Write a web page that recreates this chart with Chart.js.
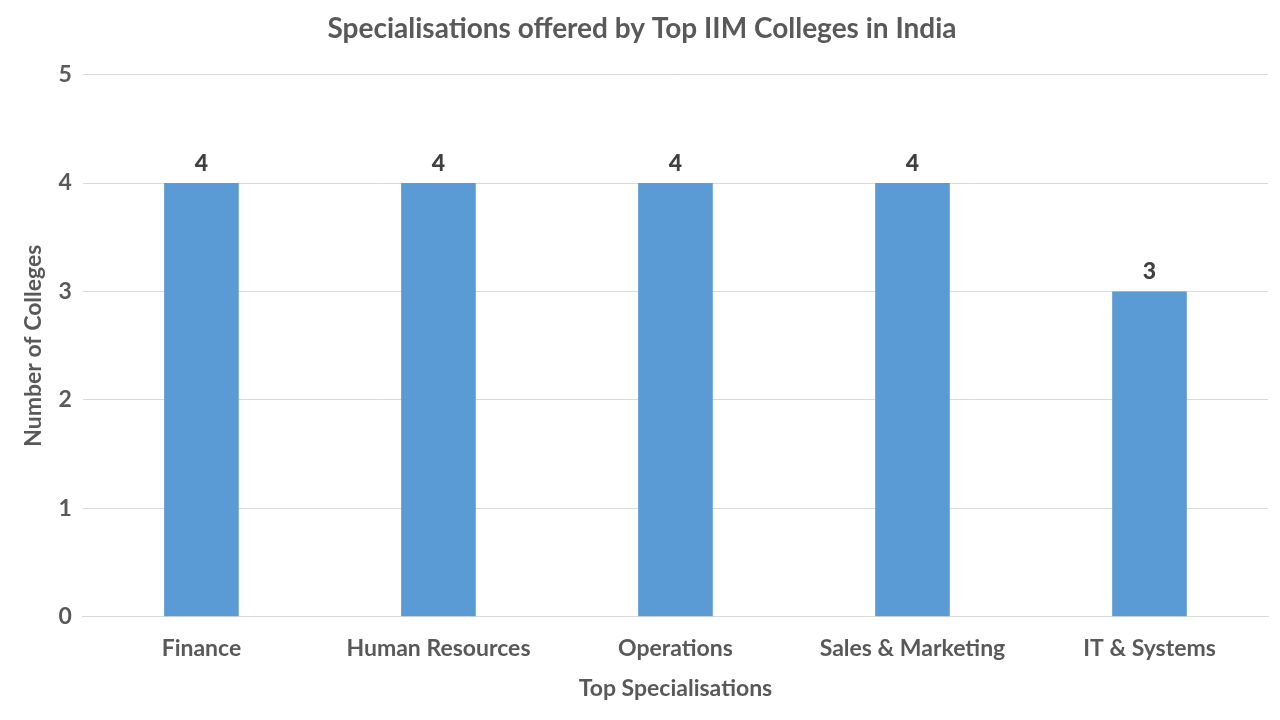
<!DOCTYPE html>
<html>
<head>
<meta charset="utf-8">
<script src="https://cdn.jsdelivr.net/npm/chart.js@4/dist/chart.umd.min.js"></script>
<style>
  html, body { margin:0; padding:0; background:#fff; }
  #wrap { width:1280px; height:720px; }
</style>
</head>
<body>
<div id="wrap"><canvas id="chart" width="1280" height="720"></canvas></div>
<script>
const categories = ["Finance", "Human Resources", "Operations", "Sales & Marketing", "IT & Systems"];
const colleges = [4, 4, 4, 4, 3];
const yTicks = [0, 1, 2, 3, 4, 5];

const FONT = "Lato, 'Open Sans', sans-serif";
const GREY = "#595959";

// value labels above bars
const barLabels = {
  id: "barLabels",
  afterDatasetsDraw(chart) {
    const ctx = chart.ctx;
    const meta = chart.getDatasetMeta(0);
    ctx.save();
    ctx.font = "900 23px " + FONT;
    ctx.fillStyle = "#404040";
    ctx.textAlign = "center";
    ctx.textBaseline = "bottom";
    meta.data.forEach((bar, i) => {
      ctx.fillText(colleges[i], bar.x, bar.y - 8);
    });
    ctx.restore();
  }
};

new Chart(document.getElementById("chart"), {
  type: "bar",
  data: {
    labels: categories,
    datasets: [{
      data: colleges,
      backgroundColor: "#5b9bd5",
      barPercentage: 0.63,
      categoryPercentage: 0.5
    }]
  },
  options: {
    responsive: false,
    animation: false,
    layout: { padding: { top: 8, right: 12, left: 16, bottom: 14 } },
    plugins: {
      legend: { display: false },
      tooltip: { enabled: false },
      title: {
        display: true,
        text: "Specialisations offered by Top IIM Colleges in India",
        color: GREY,
        font: { family: FONT, size: 28, weight: "bold" },
        padding: { top: 4, bottom: 29 }
      }
    },
    scales: {
      x: {
        grid: { display: false },
        border: { color: "#d9d9d9" },
        ticks: { color: GREY, font: { family: FONT, size: 23, weight: "bold" }, padding: 10 },
        title: {
          display: true, text: "Top Specialisations", color: GREY,
          font: { family: FONT, size: 23, weight: "bold" }, padding: { top: 2 }
        }
      },
      y: {
        min: 0, max: 5,
        afterBuildTicks(axis) { axis.ticks = yTicks.map(v => ({ value: v })); },
        grid: { color: "#d9d9d9", drawTicks: false },
        border: { display: false },
        ticks: { color: GREY, font: { family: FONT, size: 23, weight: "bold" }, padding: 11 },
        title: {
          display: true, text: "Number of Colleges", color: GREY,
          font: { family: FONT, size: 23, weight: "bold" }, padding: { bottom: 0 }
        }
      }
    }
  },
  plugins: [barLabels]
});
</script>
</body>
</html>
